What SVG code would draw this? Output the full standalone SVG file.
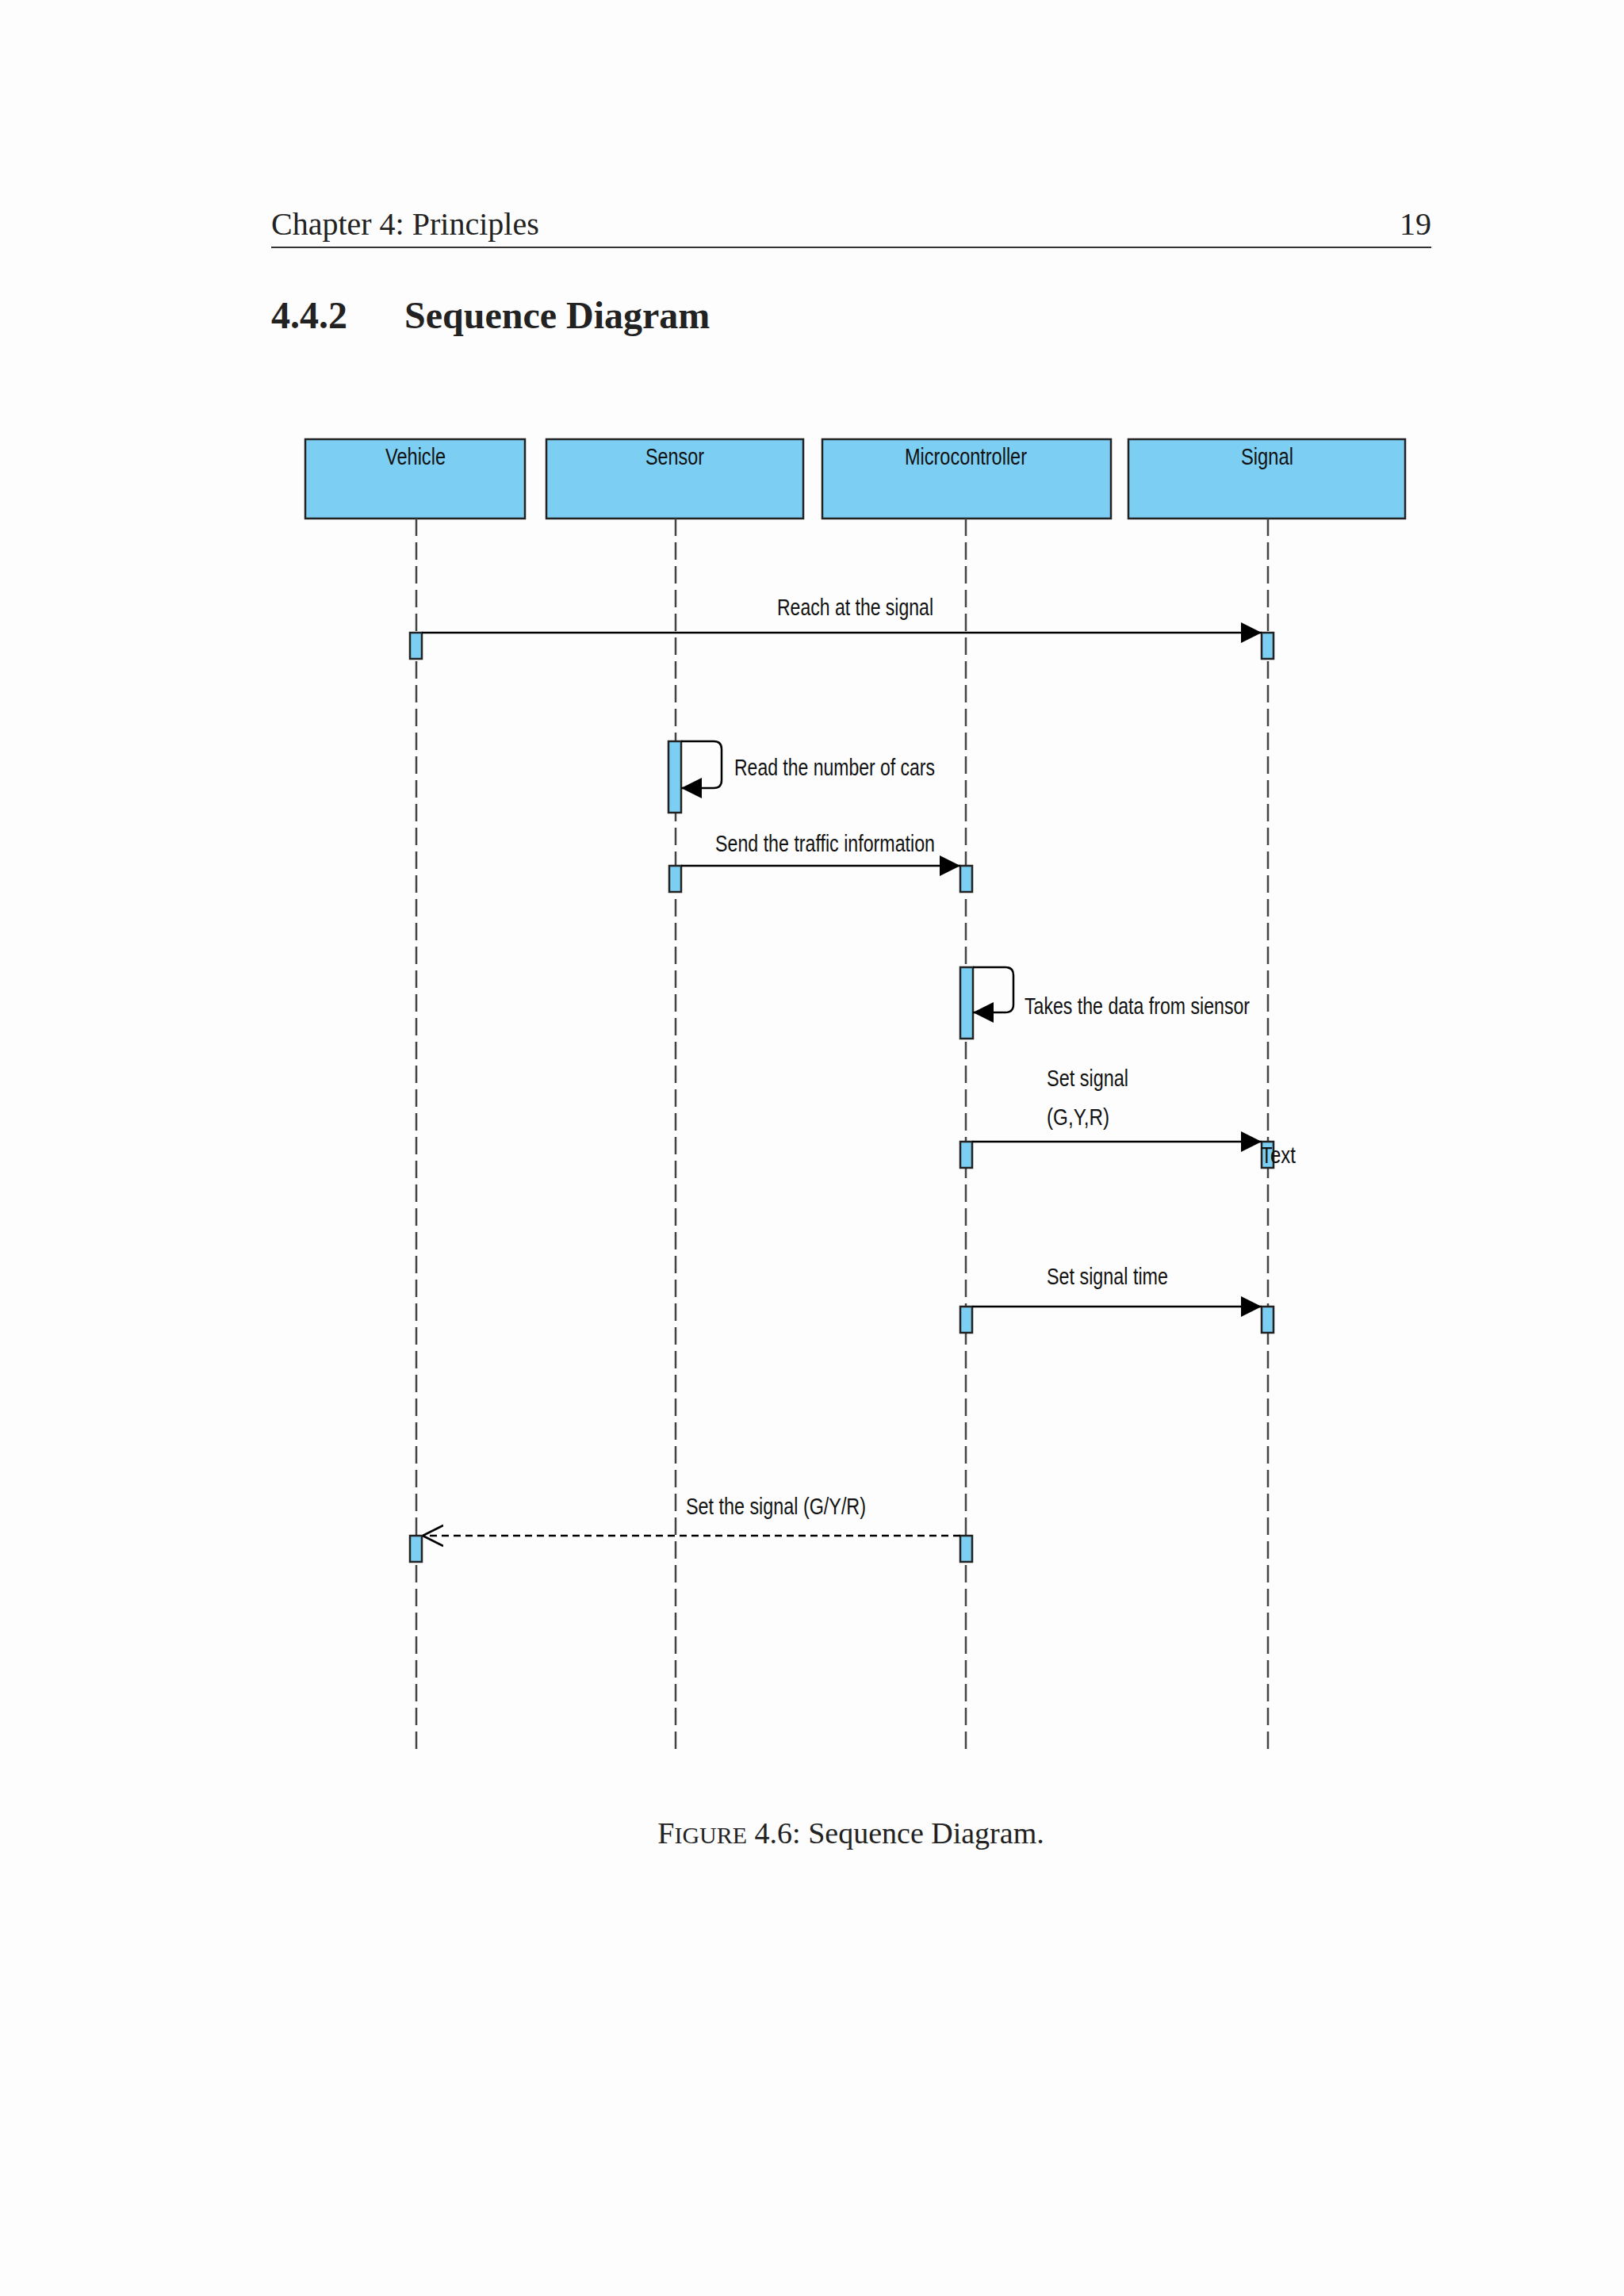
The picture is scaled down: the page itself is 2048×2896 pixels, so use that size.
<svg xmlns="http://www.w3.org/2000/svg" width="2048" height="2896" viewBox="0 0 2048 2896">
<style>
.page{font-family:"Liberation Serif",serif;fill:#222}
.box{fill:#7ccef3;stroke:#222;stroke-width:2.5}
.act{fill:#7ccef3;stroke:#222;stroke-width:2.5}
.life{stroke:#444;stroke-width:2.5;stroke-dasharray:22,8;fill:none}
.msg{stroke:#000;stroke-width:2.5;fill:none}
.lbl{font-family:"Liberation Sans",sans-serif;font-size:30px;fill:#111}
</style>
<defs>
<marker id="fa" viewBox="0 0 10 10" refX="10" refY="5" markerWidth="26" markerHeight="36" markerUnits="userSpaceOnUse" orient="auto"><path d="M0,0 L10,5 L0,10 Z" fill="#000"/></marker>
<marker id="oa" viewBox="0 0 10 10" refX="10" refY="5" markerWidth="26" markerHeight="30" markerUnits="userSpaceOnUse" orient="auto"><path d="M0,0 L10,5 L0,10" fill="none" stroke="#000" stroke-width="1"/></marker>
</defs>
<rect width="2048" height="2896" fill="#fdfdfd"/>
<text class="page" x="342" y="296" font-size="40">Chapter 4: Principles</text>
<text class="page" x="1805" y="296" font-size="40" text-anchor="end">19</text>
<line x1="342" y1="312" x2="1805" y2="312" stroke="#333" stroke-width="2"/>
<text class="page" x="342" y="414" font-size="48" font-weight="bold">4.4.2</text>
<text class="page" x="510" y="414" font-size="48" font-weight="bold">Sequence Diagram</text>
<text class="page" x="1073" y="2325" font-size="38" text-anchor="middle">F<tspan font-size="30">IGURE</tspan> 4.6: Sequence Diagram.</text>

<g id="vehicle"><rect class="box" x="385" y="554" width="277" height="100"/><text class="lbl" x="524" y="586" text-anchor="middle" textLength="76" lengthAdjust="spacingAndGlyphs">Vehicle</text><line class="life" x1="525" y1="654" x2="525" y2="2214"/></g>
<g id="sensor"><rect class="box" x="689" y="554" width="324" height="100"/><text class="lbl" x="851" y="586" text-anchor="middle" textLength="74" lengthAdjust="spacingAndGlyphs">Sensor</text><line class="life" x1="852" y1="654" x2="852" y2="2214"/></g>
<g id="microcontroller"><rect class="box" x="1037" y="554" width="364" height="100"/><text class="lbl" x="1218" y="586" text-anchor="middle" textLength="154" lengthAdjust="spacingAndGlyphs">Microcontroller</text><line class="life" x1="1218" y1="654" x2="1218" y2="2214"/></g>
<g id="signal"><rect class="box" x="1423" y="554" width="349" height="100"/><text class="lbl" x="1598" y="586" text-anchor="middle" textLength="66" lengthAdjust="spacingAndGlyphs">Signal</text><line class="life" x1="1599" y1="654" x2="1599" y2="2214"/></g>

<g id="activations">
<rect class="act" x="517" y="798" width="15" height="33"/>
<rect class="act" x="1591" y="798" width="15" height="33"/>
<rect class="act" x="843" y="935" width="16" height="90"/>
<rect class="act" x="844" y="1092" width="15" height="33"/>
<rect class="act" x="1211" y="1092" width="15" height="33"/>
<rect class="act" x="1211" y="1220" width="16" height="90"/>
<rect class="act" x="1211" y="1440" width="15" height="33"/>
<rect class="act" x="1591" y="1440" width="15" height="33"/>
<rect class="act" x="1211" y="1648" width="15" height="33"/>
<rect class="act" x="1591" y="1648" width="15" height="33"/>
<rect class="act" x="517" y="1937" width="15" height="33"/>
<rect class="act" x="1211" y="1937" width="15" height="33"/>
</g>

<g id="connectors">
<line class="msg" x1="532" y1="798" x2="1591" y2="798" marker-end="url(#fa)"/>
<path class="msg" d="M859,935 H900 Q910,935 910,945 V984 Q910,994 900,994 H859" marker-end="url(#fa)"/>
<line class="msg" x1="859" y1="1092" x2="1211" y2="1092" marker-end="url(#fa)"/>
<path class="msg" d="M1227,1220 H1268 Q1278,1220 1278,1230 V1267 Q1278,1277 1268,1277 H1227" marker-end="url(#fa)"/>
<line class="msg" x1="1226" y1="1440" x2="1591" y2="1440" marker-end="url(#fa)"/>
<line class="msg" x1="1226" y1="1648" x2="1591" y2="1648" marker-end="url(#fa)"/>
<line class="msg" x1="1211" y1="1937" x2="533" y2="1937" stroke-dasharray="9,6" marker-end="url(#oa)"/>
</g>

<g id="labels">
<text class="lbl" x="980" y="776" textLength="197" lengthAdjust="spacingAndGlyphs">Reach at the signal</text>
<text class="lbl" x="926" y="978" textLength="253" lengthAdjust="spacingAndGlyphs">Read the number of cars</text>
<text class="lbl" x="902" y="1074" textLength="277" lengthAdjust="spacingAndGlyphs">Send the traffic information</text>
<text class="lbl" x="1292" y="1279" textLength="284" lengthAdjust="spacingAndGlyphs">Takes the data from siensor</text>
<text class="lbl" x="1320" y="1370" textLength="103" lengthAdjust="spacingAndGlyphs">Set signal</text>
<text class="lbl" x="1320" y="1419" textLength="79" lengthAdjust="spacingAndGlyphs">(G,Y,R)</text>
<text class="lbl" x="1590" y="1467" textLength="44" lengthAdjust="spacingAndGlyphs">Text</text>
<text class="lbl" x="1320" y="1620" textLength="153" lengthAdjust="spacingAndGlyphs">Set signal time</text>
<text class="lbl" x="865" y="1910" textLength="227" lengthAdjust="spacingAndGlyphs">Set the signal (G/Y/R)</text>
</g>
</svg>
